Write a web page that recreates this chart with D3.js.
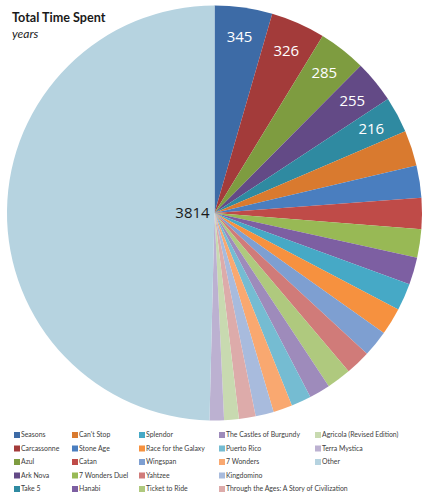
<!DOCTYPE html>
<html>
<head>
<meta charset="utf-8">
<script src="https://cdn.jsdelivr.net/npm/d3@7"></script>
<style>
  html, body { margin: 0; padding: 0; background: #fff; }
  svg { display: block; }
</style>
</head>
<body>
<svg id="chart" width="429" height="500"></svg>
<script>
const categories = [
  "Seasons", "Carcassonne", "Azul", "Ark Nova", "Take 5",
  "Can't Stop", "Stone Age", "Catan", "7 Wonders Duel", "Hanabi",
  "Splendor", "Race for the Galaxy", "Wingspan", "Yahtzee", "Ticket to Ride",
  "The Castles of Burgundy", "Puerto Rico", "7 Wonders", "Kingdomino",
  "Through the Ages: A Story of Civilization",
  "Agricola (Revised Edition)", "Terra Mystica", "Other"
];
const values = [
  345, 326, 285, 255, 216,
  212, 193, 186, 169, 163,
  163, 163, 158, 150, 146,
  126, 120, 114, 109, 100,
  88, 86, 3814
];
const colors = [
  "#3d6ba6", "#a33b3a", "#7e9c40", "#634a86", "#2f8aa1",
  "#d97a2f", "#4a7ebf", "#bf4b48", "#98b955", "#7d5fa2",
  "#46a9c6", "#f6913f", "#7e9fd1", "#d07b79", "#afc97e",
  "#9e8bbb", "#75bcd2", "#f9a870", "#a8bbdd", "#ddabaa",
  "#c8dab0", "#bcb1d1", "#b6d3e0"
];
const labelled = ["Seasons", "Carcassonne", "Azul", "Ark Nova", "Take 5", "Other"];

const svg = d3.select("#chart");
const cx = 214.5, cy = 213, R = 207.5;

// Title
svg.append("text").attr("x", 12).attr("y", 22)
  .attr("font-family", "Lato, 'Open Sans', sans-serif")
  .attr("font-weight", "bold").attr("font-size", 12.6).attr("fill", "#1a1a1a")
  .text("Total Time Spent");
svg.append("text").attr("x", 12).attr("y", 38)
  .attr("font-family", "Lato, 'Open Sans', sans-serif")
  .attr("font-style", "italic").attr("font-size", 12).attr("fill", "#1a1a1a")
  .text("years");

const data = categories.map((c, i) => ({ name: c, value: values[i], color: colors[i] }));
const pie = d3.pie().sort(null).value(d => d.value).startAngle(0).endAngle(2 * Math.PI);
const arcs = pie(data);
const arc = d3.arc().innerRadius(0).outerRadius(R);
const labelArc = d3.arc().innerRadius(178).outerRadius(178);
const otherLabelArc = d3.arc().innerRadius(22).outerRadius(22);

const g = svg.append("g").attr("transform", `translate(${cx},${cy})`);
g.selectAll("path").data(arcs).join("path")
  .attr("d", arc)
  .attr("fill", d => d.data.color);

g.selectAll("text.lbl").data(arcs.filter(d => labelled.includes(d.data.name))).join("text")
  .attr("class", "lbl")
  .attr("transform", d => {
    const c = d.data.name === "Other" ? otherLabelArc.centroid(d) : labelArc.centroid(d);
    return `translate(${c[0]},${c[1]})`;
  })
  .attr("text-anchor", "middle")
  .attr("dy", "0.36em")
  .attr("font-family", "'Open Sans', sans-serif")
  .attr("font-size", 15)
  .attr("fill", d => d.data.name === "Other" ? "#1a1a1a" : "#ffffff")
  .text(d => d.data.value);

// Legend (column-major, 5 rows)
const colX = [14, 72, 139, 219, 315];
const rowY = d3.scaleLinear().domain([0, 4]).range([435, 489]);
const leg = svg.append("g");
data.forEach((d, i) => {
  const col = Math.floor(i / 5), row = i % 5;
  const x = colX[col], y = rowY(row);
  leg.append("rect").attr("x", x).attr("y", y - 3).attr("width", 6).attr("height", 6).attr("fill", d.color);
  leg.append("text").attr("x", x + 7).attr("y", y).attr("dy", "0.35em")
    .attr("font-family", "Lato, sans-serif").attr("font-size", 6.9).attr("fill", "#404040")
    .text(d.name);
});
</script>
</body>
</html>
